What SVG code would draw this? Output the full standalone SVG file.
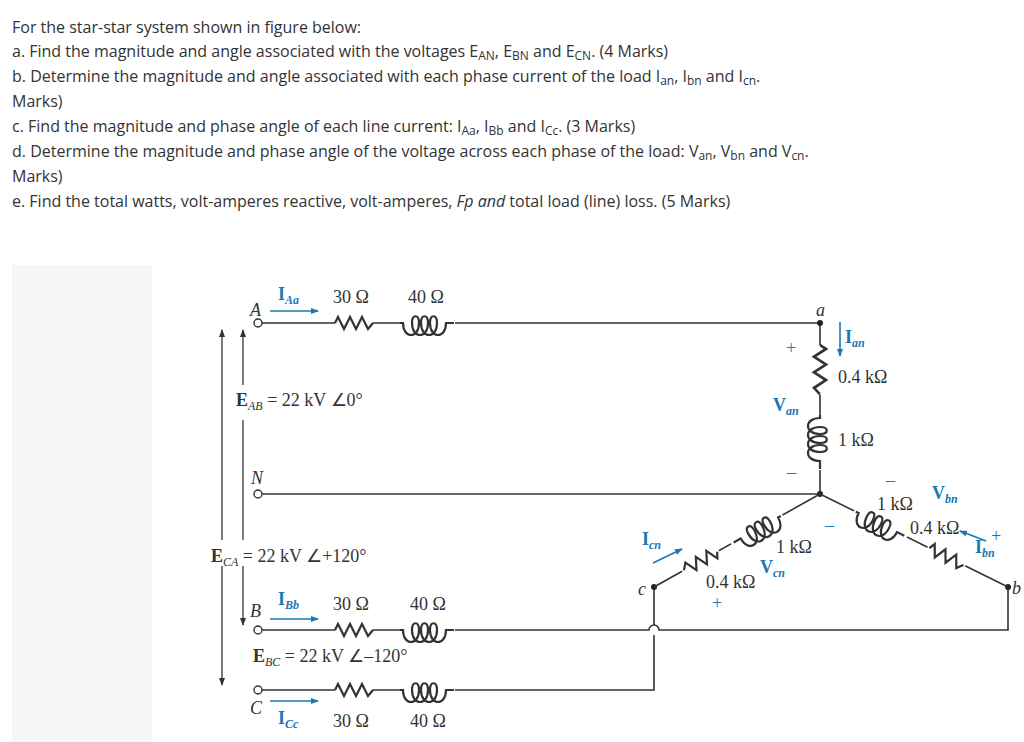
<svg xmlns="http://www.w3.org/2000/svg" width="1024" height="742" viewBox="0 0 1024 742">
<style>
.q{font-family:"Open Sans","Liberation Sans",sans-serif;font-size:16px;fill:#333}
.qs{font-size:12px}
.s{font-size:12px}
.w{fill:none;stroke:#333;stroke-width:1.6}
.c{fill:none;stroke:#333;stroke-width:2.2}
.t{font-family:"Liberation Serif",serif;font-size:18px;fill:#333}
.b{fill:#1a78b4;font-weight:bold}
.bl{fill:#1a78b4}
.it{font-style:italic}
.ar{stroke:#1a78b4;stroke-width:1.6;fill:none;marker-end:url(#ba)}
.va{stroke:#333;stroke-width:1.3;fill:none}
</style>
<defs>
<marker id="ba" markerWidth="8" markerHeight="8" refX="7" refY="4" orient="auto" markerUnits="userSpaceOnUse"><path d="M0,1 L8,4 L0,7z" fill="#1a78b4"/></marker>
<marker id="ka" markerWidth="8" markerHeight="10" refX="7" refY="4" orient="auto" markerUnits="userSpaceOnUse"><path d="M0,1 L8,4 L0,7z" fill="#333"/></marker>
<path id="res" d="M0,0 l3,-6 l6,12 l6,-12 l6,12 l6,-12 l6,12 l5,-6"/>
<path id="ind" d="M0,0 h3 c0,-16 16,-16 16,0 c0,9 -7,9 -7,0 c0,-16 16,-16 16,0 c0,9 -7,9 -7,0 c0,-16 16,-16 16,0 c0,9 -7,9 -7,0 c0,-16 16,-16 16,0 h8" transform="scale(1,-1)"/>
</defs>
<rect width="1024" height="742" fill="#fff"/>
<rect x="12" y="265" width="140" height="477" fill="#f6f6f6"/>
<g id="question">
<text class="q" x="12" y="33">For the star-star system shown in figure below:</text>
<text class="q" x="12" y="57">a. Find the magnitude and angle associated with the voltages E<tspan class="qs" dy="3">AN</tspan><tspan dy="-3">, E</tspan><tspan class="qs" dy="3">BN</tspan><tspan dy="-3"> and E</tspan><tspan class="qs" dy="3">CN</tspan><tspan dy="-3">. (4 Marks)</tspan></text>
<text class="q" x="12" y="82">b. Determine the magnitude and angle associated with each phase current of the load I<tspan class="qs" dy="3">an</tspan><tspan dy="-3">, I</tspan><tspan class="qs" dy="3">bn</tspan><tspan dy="-3"> and I</tspan><tspan class="qs" dy="3">cn</tspan><tspan dy="-3">.</tspan></text>
<text class="q" x="12" y="107">Marks)</text>
<text class="q" x="12" y="132">c. Find the magnitude and phase angle of each line current: I<tspan class="qs" dy="3">Aa</tspan><tspan dy="-3">, I</tspan><tspan class="qs" dy="3">Bb</tspan><tspan dy="-3"> and I</tspan><tspan class="qs" dy="3">Cc</tspan><tspan dy="-3">. (3 Marks)</tspan></text>
<text class="q" x="12" y="157">d. Determine the magnitude and phase angle of the voltage across each phase of the load: V<tspan class="qs" dy="3">an</tspan><tspan dy="-3">, V</tspan><tspan class="qs" dy="3">bn</tspan><tspan dy="-3"> and V</tspan><tspan class="qs" dy="3">cn</tspan><tspan dy="-3">.</tspan></text>
<text class="q" x="12" y="182">Marks)</text>
<text class="q" x="12" y="207">e. Find the total watts, volt-amperes reactive, volt-amperes, <tspan font-style="italic">Fp and</tspan> total load (line) loss.  (5 Marks)</text>
</g>
<g id="connectors">
<path class="w" d="M262,323 H335 M373,323 H400 M455,323 H820 V345"/>
<path class="w" d="M820,395 V415 M820,470 V494"/>
<path class="w" d="M262,494 H820"/>
<path class="w" d="M262,630 H335 M373,630 H400 M455,630 H649 a5,5 0 0 1 10,0 H1008 V587"/>
<path class="w" d="M262,690 H335 M373,690 H400 M455,690 H654 V635 M654,625 V587"/>
<path class="va" d="M222,540 V330" marker-end="url(#ka)"/>
<path class="va" d="M222,566 V685" marker-end="url(#ka)"/>
<path class="va" d="M243,385 V330" marker-end="url(#ka)"/>
<path class="va" d="M243,420 V540"/>
<path class="va" d="M243,566 V625" marker-end="url(#ka)"/>
</g>
<g id="lineA"><circle cx="258" cy="323" r="4" fill="#fff" stroke="#333" stroke-width="1.4"/>
<use href="#res" x="335" y="323" class="c"/><use href="#ind" x="400" y="323" class="c"/>
<path class="ar" d="M270,311 H318"/>
<text class="t it" x="250" y="316">A</text>
<text class="t b" x="278" y="300">I<tspan class="s it" dy="4">Aa</tspan></text>
<text class="t" x="333" y="303">30 Ω</text><text class="t" x="408" y="303">40 Ω</text></g>
<g id="lineN"><circle cx="258" cy="494" r="4" fill="#fff" stroke="#333" stroke-width="1.4"/>
<text class="t it" x="251" y="484">N</text></g>
<g id="lineB"><circle cx="258" cy="630" r="4" fill="#fff" stroke="#333" stroke-width="1.4"/>
<use href="#res" x="335" y="630" class="c"/><use href="#ind" x="400" y="630" class="c"/>
<path class="ar" d="M270,619 H318"/>
<text class="t it" x="250" y="617">B</text>
<text class="t b" x="278" y="605">I<tspan class="s it" dy="4">Bb</tspan></text>
<text class="t" x="333" y="610">30 Ω</text><text class="t" x="410" y="610">40 Ω</text></g>
<g id="lineC"><circle cx="258" cy="690" r="4" fill="#fff" stroke="#333" stroke-width="1.4"/>
<use href="#res" x="335" y="690" class="c"/><use href="#ind" x="400" y="690" class="c"/>
<path class="ar" d="M270,701 H318"/>
<text class="t it" x="250" y="714">C</text>
<text class="t b" x="278" y="724">I<tspan class="s it" dy="4">Cc</tspan></text>
<text class="t" x="333" y="727">30 Ω</text><text class="t" x="410" y="727">40 Ω</text></g>
<g id="sources">
<text class="t" x="236" y="406"><tspan font-weight="bold">E</tspan><tspan class="s it" dy="4">AB</tspan><tspan dy="-4"> = 22 kV ∠0°</tspan></text>
<text class="t" x="211" y="562"><tspan font-weight="bold">E</tspan><tspan class="s it" dy="4">CA</tspan><tspan dy="-4"> = 22 kV ∠+120°</tspan></text>
<text class="t" x="253" y="662"><tspan font-weight="bold">E</tspan><tspan class="s it" dy="4">BC</tspan><tspan dy="-4"> = 22 kV ∠–120°</tspan></text>
</g>
<g id="phaseA">
<circle cx="820" cy="323" r="3" fill="#222"/>
<use href="#res" transform="translate(820,345) rotate(90) scale(1.3,1)" class="c"/>
<use href="#ind" transform="translate(820,415) rotate(90)" class="c"/>
<path class="ar" d="M840,322 V356"/>
<text class="t it" x="816" y="316">a</text>
<text class="t b" x="845" y="343">I<tspan class="s it" dy="4">an</tspan></text>
<text class="t" x="838" y="383">0.4 kΩ</text>
<text class="t" x="838" y="446">1 kΩ</text>
<text class="t bl" x="786" y="354">+</text>
<text class="t b" x="773" y="411">V<tspan class="s it" dy="4">an</tspan></text>
<text class="t bl" x="787" y="478">–</text>
</g>
<g id="phaseB">
<circle cx="820" cy="494" r="3" fill="#222"/>
<circle cx="1008" cy="587" r="3" fill="#222"/>
<path class="w" d="M820,494 L1008,587"/>
<g transform="translate(820,494) rotate(26.3)"><rect x="38" y="-2" width="59" height="4" fill="#fff"/><rect x="120" y="-2" width="42" height="4" fill="#fff"/><use href="#ind" x="40" class="c"/><use href="#res" x="122" class="c"/></g>
<path class="ar" d="M986,541 L960,531"/>
<text class="t it" x="1012" y="594">b</text>
<text class="t" x="877" y="510">1 kΩ</text>
<text class="t b" x="932" y="499">V<tspan class="s it" dy="4">bn</tspan></text>
<text class="t" x="910" y="534">0.4 kΩ</text>
<text class="t bl" x="991" y="542">+</text>
<text class="t b" x="975" y="553">I<tspan class="s it" dy="4">bn</tspan></text>
<text class="t bl" x="886" y="486">–</text>
</g>
<g id="phaseC">
<circle cx="654" cy="587" r="3" fill="#222"/>
<path class="w" d="M820,494 L654,587"/>
<g transform="translate(820,494) rotate(150.7)"><rect x="43" y="-2" width="59" height="4" fill="#fff"/><rect x="116" y="-2" width="42" height="4" fill="#fff"/><g transform="scale(1,-1)"><use href="#ind" x="45" class="c"/></g><use href="#res" x="118" class="c"/></g>
<path class="ar" d="M653,563 L682,549"/>
<text class="t it" x="638" y="595">c</text>
<text class="t b" x="642" y="545">I<tspan class="s it" dy="4">cn</tspan></text>
<text class="t" x="776" y="553">1 kΩ</text>
<text class="t bl" x="825" y="531">–</text>
<text class="t" x="706" y="588">0.4 kΩ</text>
<text class="t b" x="760" y="573">V<tspan class="s it" dy="4">cn</tspan></text>
<text class="t bl" x="712" y="609">+</text>
</g>
</svg>
